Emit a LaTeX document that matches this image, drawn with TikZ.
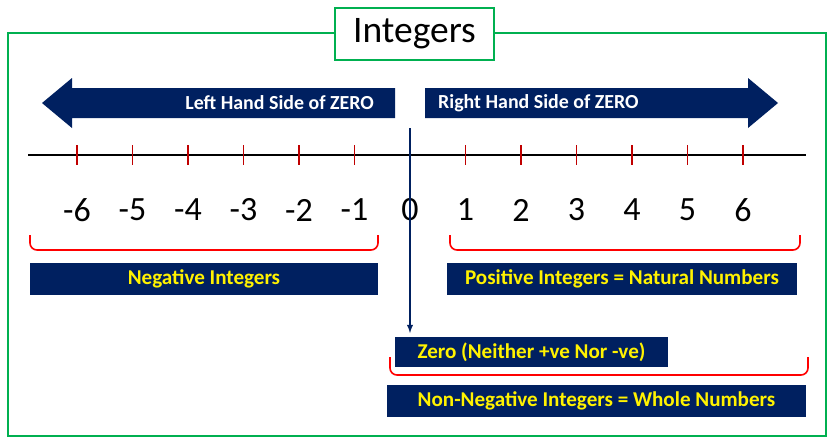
\documentclass[tikz,border=0pt]{standalone}
\usepackage{fontspec}
\setmainfont{Carlito}
\definecolor{navy}{HTML}{002060}
\definecolor{frame}{HTML}{00B050}
\definecolor{tickred}{HTML}{C00000}
\tikzset{
    band/.style={fill=navy, draw=none, text=yellow, font=\bfseries\fontsize{18}{20}\selectfont, inner sep=0pt},
    brace/.style={draw=red, line width=1.4pt, rounded corners=6pt},
    num/.style={font=\fontsize{29}{32}\selectfont},
}
\begin{document}
\begin{tikzpicture}[x=0.03cm, y=-0.03cm]
        \useasboundingbox (0, 0) rectangle (834, 440);
        \draw[frame, line width=1.6pt] (8, 33) rectangle (826, 436);
        \node[draw=frame, line width=1.6pt, fill=white, minimum width=4.77cm, minimum height=1.56cm, font=\fontsize{32}{36}\selectfont] (title) at (414.5, 34) {Integers};
        % arrows
        \fill[navy] (395, 88) -- (72, 88) -- (72, 78) -- (42, 103) -- (72, 128) -- (72, 118) -- (395, 118) -- cycle;
        \fill[navy] (425, 88) -- (748, 88) -- (748, 78) -- (778, 103) -- (748, 128) -- (748, 118) -- (425, 118) -- cycle;
        \node[text=white, font=\bfseries\fontsize{17}{19}\selectfont, anchor=east] (lhs) at (378, 103) {Left Hand Side of ZERO};
        \node[text=white, font=\bfseries\fontsize{17}{19}\selectfont, anchor=west] (rhs) at (434, 103) {Right Hand Side of ZERO};
        % number line
        \draw[line width=1.6pt] (28, 155) -- (806, 155);
        \coordinate (top) at (410, 128);
        \coordinate (zero) at (410, 185);
        \draw[navy, line width=1.6pt] (top) -- (zero);
        \foreach \n in {1,...,6} {
            \draw[tickred, line width=1.6pt] ({410-55.5*\n}, 145) -- ({410-55.5*\n}, 165);
            \draw[tickred, line width=1.6pt] ({410+55.5*\n}, 145) -- ({410+55.5*\n}, 165);
            \node[num] at ({410-55.5*\n}, 210) {-\n};
            \node[num] at ({410+55.5*\n}, 210) {\n};
        }
        \node[num] at (410, 210) {0};
        % brackets
        \draw[brace] (30, 235) -- (30, 250) -- (378, 250) -- (378, 235);
        \draw[brace] (450, 235) -- (450, 250) -- (800, 250) -- (800, 235);
        \draw[brace] (390, 357) -- (390, 375) -- (808, 375) -- (808, 357);
        % labels
        \node[band, minimum width=10.44cm, minimum height=0.96cm] (neg) at (204, 279) {Negative Integers};
        \node[band, minimum width=10.5cm, minimum height=0.96cm] (pos) at (622, 279) {Positive Integers = Natural Numbers};
        \node[band, minimum width=8.19cm, minimum height=0.9cm] (zbox) at (531.5, 352) {Zero (Neither +ve Nor -ve)};
        \node[band, minimum width=12.57cm, minimum height=0.96cm] (whole) at (596.5, 401) {Non-Negative Integers = Whole Numbers};
        \draw[-latex, navy, line width=1.4pt] (zero) -- (410, 333);
    \end{tikzpicture}
\end{document}
